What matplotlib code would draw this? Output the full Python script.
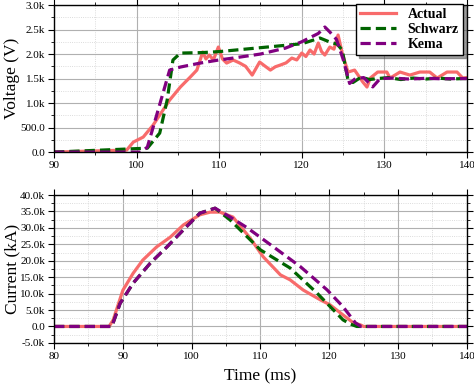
import matplotlib.pyplot as plt
import numpy as np
from matplotlib.ticker import MultipleLocator, FuncFormatter

plt.rcParams['font.family'] = ['Liberation Serif', 'DejaVu Serif']

# Voltage (top panel)
t_act_v = [90, 98.8, 99.6, 100.8, 102.0, 103.2, 104.0, 105.3, 106.5, 107.3, 107.7, 108.0, 108.4, 108.8,
           109.3, 109.9, 110.4, 110.9, 111.7, 112.5, 113.2, 114.0, 114.9, 115.5, 116.2, 116.8, 117.4,
           118.1, 118.8, 119.4, 120.0, 120.5, 121.0, 121.5, 122.0, 122.4, 122.8, 123.4, 123.9, 124.4,
           124.9, 125.6, 126.4, 127.4, 127.9, 128.3, 129.2, 130.3, 130.7, 131.9, 133.1, 134.3, 135.5,
           136.4, 137.6, 138.8, 139.5, 140]
v_act = [0, 41, 204, 306, 551, 857, 1061, 1327, 1531, 1673, 1878, 2041, 1900, 1980,
         1880, 2143, 1900, 1816, 1878, 1816, 1750, 1571, 1837, 1760, 1673, 1740, 1775,
         1820, 1918, 1880, 2020, 1950, 2082, 2000, 2225, 2050, 1980, 2143, 2100, 2388,
         2020, 1633, 1673, 1429, 1327, 1510, 1633, 1633, 1510, 1633, 1571, 1633, 1633,
         1510, 1633, 1633, 1510, 1520]

t_sch_v = [90, 101.3, 102.8, 103.7, 104.4, 105.3, 108, 110, 115, 120, 122.2, 123.4, 124.3, 124.9,
           125.6, 126.2, 127.2, 128.2, 129.2, 130.5, 132, 133.5, 135, 136.5, 138, 139.5, 140]
v_sch = [0, 80, 388, 1061, 1878, 2020, 2030, 2050, 2130, 2210, 2327, 2245, 2200, 2082,
         1469, 1420, 1530, 1480, 1500, 1520, 1480, 1510, 1490, 1510, 1490, 1500, 1500]

t_kem_v = [90, 100.5, 101.3, 102.5, 104.0, 105.3, 107.7, 110, 111.7, 115, 118, 120, 122, 122.8,
           123.4, 124.2, 125.0, 125.8, 126.5, 127.5, 128.6, 129.5, 131, 133, 135, 137, 139, 140]
v_kem = [0, 0, 100, 796, 1673, 1735, 1816, 1880, 1918, 2000, 2120, 2250, 2420, 2551,
         2450, 2300, 1900, 1400, 1500, 1520, 1330, 1500, 1510, 1490, 1505, 1495, 1500, 1500]

# Current (bottom panel), kA
t_act_i = [80, 88.0, 88.6, 90.0, 91.5, 92.9, 94.9, 96.9, 98.8, 101.2, 102.7, 104.1, 106.0,
           108.5, 110.4, 112.9, 114.3, 116.2, 118.7, 120.1, 122.0, 123.5, 124.5, 125, 140]
i_act = [0, 0, 2.0, 11.0, 16.2, 20.2, 24.2, 27.2, 30.9, 34.0, 34.8, 34.8, 33.3,
         26.9, 21.2, 15.7, 14.2, 11.1, 8.1, 6.6, 3.5, 1.1, 0.5, 0, 0]

t_sch_i = [80, 88.4, 89.6, 91.5, 94.0, 96.4, 98.8, 101.2, 103.4, 105.6, 110.0, 114.3, 118.2,
           122.0, 123.0, 124.0, 140]
i_sch = [0, 0, 7.0, 13.2, 19.3, 24.2, 29.4, 34.5, 36.0, 32.4, 23.3, 17.8, 10.2,
         2.0, 0.8, 0, 0]

t_kem_i = [80, 88.4, 89.6, 91.5, 94.0, 96.4, 98.8, 101.2, 103.4, 105.6, 108.1, 111.9, 115.8,
           119.7, 122.0, 123.8, 124.6, 140]
i_kem = [0, 0, 7.0, 13.2, 19.3, 24.2, 29.4, 34.5, 36.0, 33.3, 30.0, 24.2, 18.2,
         11.1, 6.0, 1.1, 0, 0]

c_act = '#f86b6b'
c_sch = '#006400'
c_kem = '#800080'

fig = plt.figure(figsize=(4.74, 3.87), dpi=100)
ax1 = fig.add_axes([0.114, 0.607, 0.871, 0.380])
ax2 = fig.add_axes([0.114, 0.114, 0.871, 0.382])


def kfmt(v, pos):
    if abs(v) < 1e-9:
        return '0.0'
    if abs(v) < 1000:
        return '%.1f' % v
    return '%.1fk' % (v / 1000)


def style(ax):
    ax.grid(which='major', color='#b0b0b0', linewidth=0.8, linestyle='-')
    ax.grid(which='minor', color='#d0d0d0', linewidth=0.6, linestyle=':')
    ax.tick_params(which='both', direction='out', top=True, right=True, labelsize=8, pad=2.5)
    ax.tick_params(which='major', length=4)
    ax.tick_params(which='minor', length=2.5)
    ax.set_axisbelow(True)
    for s in ax.spines.values():
        s.set_linewidth(1.0)


lw = 2.3
dash = (3.2, 1.6)

ax1.plot(t_act_v, v_act, color=c_act, lw=lw, label='Actual')
ax1.plot(t_sch_v, v_sch, color=c_sch, lw=lw, dashes=dash, label='Schwarz')
ax1.plot(t_kem_v, v_kem, color=c_kem, lw=lw, dashes=dash, label='Kema')
ax1.set_xlim(90, 140)
ax1.set_ylim(0, 3000)
ax1.xaxis.set_major_locator(MultipleLocator(10))
ax1.xaxis.set_minor_locator(MultipleLocator(5))
ax1.yaxis.set_major_locator(MultipleLocator(500))
ax1.yaxis.set_minor_locator(MultipleLocator(250))
ax1.yaxis.set_major_formatter(FuncFormatter(kfmt))
ax1.set_ylabel('Voltage (V)', fontsize=12.5)
ax1.yaxis.set_label_coords(-0.082, 0.5)
style(ax1)

leg = ax1.legend(loc='upper right', bbox_to_anchor=(0.99, 1.01), frameon=True, fancybox=False,
                 shadow=True, borderaxespad=0.0, handlelength=2.6, labelspacing=0.15,
                 borderpad=0.3, prop={'weight': 'bold', 'size': 10})
leg.get_frame().set_edgecolor('black')
leg.get_frame().set_linewidth(1.0)
leg.get_frame().set_alpha(1.0)

ax2.plot(t_act_i, np.array(i_act) * 1000, color=c_act, lw=lw)
ax2.plot(t_sch_i, np.array(i_sch) * 1000, color=c_sch, lw=lw, dashes=dash)
ax2.plot(t_kem_i, np.array(i_kem) * 1000, color=c_kem, lw=lw, dashes=dash)
ax2.set_xlim(80, 140)
ax2.set_ylim(-5000, 40000)
ax2.xaxis.set_major_locator(MultipleLocator(10))
ax2.xaxis.set_minor_locator(MultipleLocator(5))
ax2.yaxis.set_major_locator(MultipleLocator(5000))
ax2.yaxis.set_minor_locator(MultipleLocator(2500))
ax2.yaxis.set_major_formatter(FuncFormatter(kfmt))
ax2.set_ylabel('Current (kA)', fontsize=12.5)
ax2.yaxis.set_label_coords(-0.082, 0.5)
ax2.set_xlabel('Time (ms)', fontsize=12.5)
ax2.xaxis.set_label_coords(0.5, -0.17)
style(ax2)

fig.savefig('out.png', dpi=100)
